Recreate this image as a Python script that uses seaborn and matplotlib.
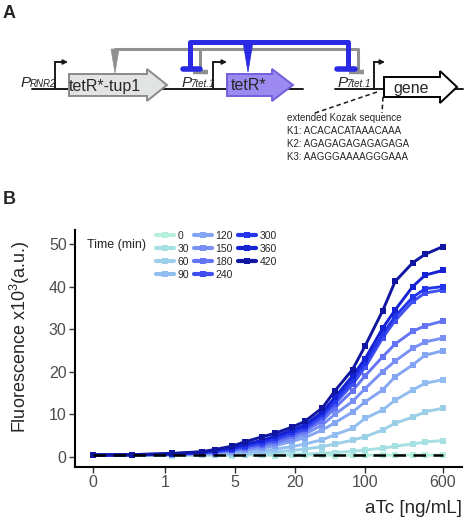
import numpy as np
import pandas as pd
import seaborn as sns
import matplotlib.pyplot as plt
from matplotlib.patches import Polygon
from matplotlib.lines import Line2D

# aTc concentrations (ng/mL) and fluorescence (x10^3 a.u.) per time point
conc = [0, 0.47, 1.17, 2.34, 3.13, 4.69, 6.25, 9.38, 12.5, 18.75, 25, 37.5,
        50, 75, 100, 150, 200, 300, 400, 600]
times = [0, 30, 60, 90, 120, 150, 180, 240, 300, 360, 420]
f0 = [0.4, 0.4, 0.3, 0.4, 0.4, 0.3, 0.4, 0.4, 0.3, 0.4, 0.4, 0.4, 0.3, 0.4,
      0.4, 0.4, 0.4, 0.4, 0.4, 0.4]
f30 = [0.4, 0.4, 0.4, 0.4, 0.4, 0.4, 0.5, 0.5, 0.5, 0.6, 0.7, 0.8, 1.0, 1.3,
       1.6, 2.0, 2.5, 3.0, 3.5, 3.8]
f60 = [0.4, 0.4, 0.4, 0.5, 0.5, 0.6, 0.7, 0.9, 1.1, 1.5, 1.8, 2.4, 3.0, 3.9,
       4.7, 6.3, 7.9, 9.3, 10.6, 11.4]
f90 = [0.4, 0.4, 0.5, 0.6, 0.7, 0.9, 1.1, 1.4, 1.8, 2.4, 3.0, 4.0, 5.2, 6.7,
       9.0, 11.0, 13.3, 15.7, 17.3, 18.1]
f120 = [0.4, 0.45, 0.5, 0.7, 0.9, 1.2, 1.5, 2.0, 2.6, 3.6, 4.5, 6.3, 8.0,
        10.5, 12.9, 15.7, 18.8, 21.6, 23.9, 24.9]
f150 = [0.4, 0.45, 0.55, 0.8, 1.0, 1.4, 1.8, 2.4, 3.0, 4.2, 5.3, 7.5, 10.0,
        13.0, 16.0, 20.0, 22.5, 25.5, 27.0, 27.9]
f180 = [0.4, 0.45, 0.55, 0.8, 1.1, 1.5, 2.0, 2.7, 3.4, 4.8, 6.0, 8.5, 11.5,
        15.5, 19.0, 23.5, 26.5, 29.5, 30.8, 31.9]
f240 = [0.4, 0.45, 0.6, 0.9, 1.2, 1.7, 2.3, 3.1, 3.9, 5.3, 6.5, 9.3, 12.5,
        17.0, 21.0, 27.9, 32.0, 36.5, 38.5, 39.2]
f300 = [0.4, 0.45, 0.6, 1.0, 1.3, 1.9, 2.6, 3.5, 4.3, 5.8, 7.0, 10.0, 13.2,
        18.0, 22.0, 28.8, 33.0, 37.5, 39.5, 40.0]
f360 = [0.4, 0.5, 0.7, 1.1, 1.5, 2.1, 2.9, 3.9, 4.8, 6.3, 7.5, 10.5, 14.0,
        19.0, 23.0, 30.2, 34.5, 40.0, 42.7, 43.8]
f420 = [0.4, 0.5, 0.8, 1.2, 1.7, 2.5, 3.5, 4.7, 5.5, 7.0, 8.3, 11.5, 15.5,
        20.5, 26.0, 34.3, 41.2, 45.6, 47.6, 49.4]
control = [0.4, 0.4, 0.4, 0.4, 0.4, 0.4, 0.4, 0.4, 0.4, 0.4, 0.4, 0.4, 0.4,
           0.4, 0.4, 0.4, 0.4, 0.4, 0.4, 0.4]
colors = ["#b4f0dc", "#a6e0e2", "#9ccfe8", "#92bdf0", "#84a6f2", "#7890f4",
          "#6474f4", "#4050f0", "#2436ec", "#1422d4", "#10169f"]
xtick_vals = [0, 1, 5, 20, 100, 600]
kozak = ["extended Kozak sequence", "K1: ACACACATAAACAAA",
         "K2: AGAGAGAGAGAGAGA", "K3: AAGGGAAAAGGGAAA"]

ZERO_POS = 0.19  # where aTc = 0 sits on the log axis

sns.set_theme(style="ticks")
plt.rcParams['font.family'] = ['Liberation Sans', 'DejaVu Sans']
plt.rcParams['mathtext.fontset'] = 'custom'
plt.rcParams['mathtext.rm'] = 'Liberation Sans'

fig = plt.figure(figsize=(4.74, 5.28), dpi=100)

# ---------------- panel A: circuit sketch (pixel coordinates) -------------
axA = fig.add_axes([0, 0, 1, 1])
axA.set_xlim(0, 474)
axA.set_ylim(528, 0)
axA.axis('off')


def block_arrow(x0, xh, xt, yc, hb, hh, fc, ec):
    pts = [(x0, yc - hb), (xh, yc - hb), (xh, yc - hh), (xt, yc),
           (xh, yc + hh), (xh, yc + hb), (x0, yc + hb)]
    axA.add_patch(Polygon(pts, closed=True, fc=fc, ec=ec, lw=1.4, zorder=3))


def promoter(x, x2):
    axA.plot([x, x, x2 - 4], [89, 62, 62], color='k', lw=1.4, zorder=2,
             solid_joinstyle='miter')
    axA.annotate('', xy=(x2, 62), xytext=(x2 - 6, 62),
                 arrowprops=dict(arrowstyle='-|>', color='k', lw=1.2,
                                 mutation_scale=7, shrinkA=0, shrinkB=0))


axA.text(3, 14, "A", fontsize=13, fontweight='bold', va='center')
axA.text(3, 200, "B", fontsize=13, fontweight='bold', va='center')

# backbone
axA.plot([32, 303], [89, 89], color='k', lw=1.4, zorder=1)
axA.plot([335, 463], [89, 89], color='k', lw=1.4, zorder=1)

promoter(55, 68)
promoter(213, 227)
promoter(374, 385)

for xp, sub in [(21, "RNR2"), (182, "7tet.1"), (338, "7tet.1")]:
    axA.text(xp, 87, "P", fontsize=11, style='italic', va='baseline')
    axA.text(xp + 9, 87, sub, fontsize=7, style='italic', va='baseline')

block_arrow(69, 147, 167, 85, 11, 16, "#e2e4e4", "#8a8a8a")
block_arrow(227, 272, 293, 85, 11, 16, "#9d8af0", "#7060dc")
block_arrow(384, 440, 457, 87, 10, 16, "white", "black")
axA.text(105, 86, "tetR*-tup1", fontsize=11.5, ha='center', va='center',
         zorder=4)
axA.text(249, 86, "tetR*", fontsize=11.5, ha='center', va='center', zorder=4)
axA.text(411, 88, "gene", fontsize=11.5, ha='center', va='center', zorder=4)

# grey repression (tetR*-tup1)
grey = "#8f9090"
axA.add_patch(Polygon([(111, 49), (119, 49), (115, 73)], closed=True,
                      fc=grey, ec=grey, lw=0.5, zorder=2))
axA.plot([115, 358, 358], [49, 49, 71], color=grey, lw=2.2, zorder=2,
         solid_joinstyle='round')
axA.plot([200, 200], [49, 71], color=grey, lw=2.2, zorder=2)
axA.plot([193, 208], [72, 72], color=grey, lw=3.2, zorder=2,
         solid_capstyle='butt')
axA.plot([349, 364], [72, 72], color=grey, lw=3.2, zorder=2,
         solid_capstyle='butt')

# blue repression (tetR*)
blue = "#2a2ae4"
axA.add_patch(Polygon([(243, 42), (253, 42), (248, 72)], closed=True,
                      fc=blue, ec=blue, lw=0.5, zorder=3))
axA.plot([190, 190, 348, 348], [68, 42, 42, 68], color=blue, lw=3.6,
         zorder=3, solid_joinstyle='round')
axA.plot([183, 200], [69, 69], color=blue, lw=4, zorder=3,
         solid_capstyle='round')
axA.plot([337, 355], [69, 69], color=blue, lw=4, zorder=3,
         solid_capstyle='round')

# Kozak annotation
axA.plot([377, 315], [92, 113], color='k', lw=1.1, ls=(0, (3, 2)))
axA.plot([383, 382], [97, 113], color='k', lw=1.1, ls=(0, (3, 2)))
for i, line in enumerate(kozak):
    axA.text(287, 118 + i * 13, line, fontsize=7, va='center')

# ---------------- panel B: dose response ---------------------------------
series = [f0, f30, f60, f90, f120, f150, f180, f240, f300, f360, f420]
xpos = [ZERO_POS if c == 0 else c for c in conc]
rows = []
for t, vals in zip(times, series):
    for c, xp, v in zip(conc, xpos, vals):
        rows.append({"aTc": c, "x": xp, "fluor": v, "time": str(t)})
df = pd.DataFrame(rows)

ax = fig.add_axes([75 / 474, 1 - 467 / 528, 387 / 474, 237 / 528])
sns.lineplot(data=df, x="x", y="fluor", hue="time",
             hue_order=[str(t) for t in times], palette=colors,
             marker="s", markersize=5, markeredgewidth=0, linewidth=2.1,
             errorbar=None, legend=False, ax=ax)
ax.plot(xpos, control, color='black', lw=1.8, ls=(0, (5, 3)), zorder=5)

ax.set_xscale('log')
ax.set_xlim(0.126, 933)
ax.set_ylim(-2.4, 53.3)
ax.set_xticks([ZERO_POS if v == 0 else v for v in xtick_vals])
ax.set_xticklabels([str(v) for v in xtick_vals])
ax.xaxis.set_minor_locator(plt.NullLocator())
ax.set_yticks([0, 10, 20, 30, 40, 50])
sns.despine(ax=ax)
for s in ["left", "bottom"]:
    ax.spines[s].set_color("black")
    ax.spines[s].set_linewidth(1.5)
ax.tick_params(direction='out', length=4, width=1, color='#333333',
               labelcolor='#4d4d4d', labelsize=11.5, pad=2)
ax.set_xlabel("aTc [ng/mL]", fontsize=13.5, loc='right', labelpad=7)
ax.set_ylabel("Fluorescence x10$^3$(a.u.)", fontsize=13)
ax.yaxis.set_label_coords(-0.112, 0.55)

handles = [Line2D([], [], color=c, lw=3, marker='s', markersize=5,
                  markeredgewidth=0) for c in colors]
ax.legend(handles, [str(t) for t in times], ncol=3, loc='upper left',
          bbox_to_anchor=(156 / 474, 1 - 231 / 528),
          bbox_transform=fig.transFigure, frameon=False, fontsize=7.5,
          handlelength=1.7, handletextpad=0.35, columnspacing=0.5,
          labelspacing=0.28, borderpad=0, borderaxespad=0)
fig.text(87 / 474, 1 - 245 / 528, "Time (min)", fontsize=9, va='center')

fig.savefig("out.png", dpi=100)
